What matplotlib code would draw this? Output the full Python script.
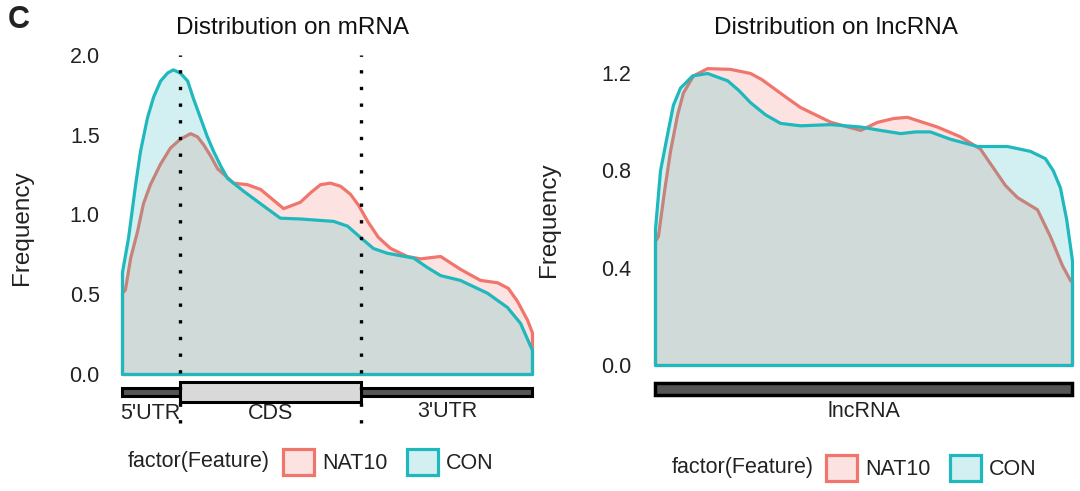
import numpy as np
import matplotlib
matplotlib.use("Agg")
import matplotlib.pyplot as plt
from matplotlib.patches import Rectangle

plt.rcParams['font.family'] = ['Liberation Sans', 'DejaVu Sans']

# relative position along the transcript (0..1) and density
mrna_x_con = [0.0, 0.015, 0.032, 0.044, 0.061, 0.076, 0.093, 0.110, 0.124, 0.141,
              0.159, 0.173, 0.190, 0.207, 0.222, 0.239, 0.256, 0.295, 0.337, 0.385,
              0.434, 0.515, 0.549, 0.580, 0.612, 0.646, 0.678, 0.710, 0.744, 0.776,
              0.824, 0.890, 0.939, 0.971, 1.0]
mrna_con = [0.64, 0.86, 1.19, 1.40, 1.61, 1.74, 1.84, 1.89, 1.91, 1.89,
            1.84, 1.73, 1.61, 1.49, 1.40, 1.31, 1.23, 1.15, 1.07, 0.98,
            0.975, 0.96, 0.93, 0.86, 0.79, 0.76, 0.745, 0.73, 0.67, 0.62,
            0.59, 0.51, 0.42, 0.32, 0.15]
mrna_x_nat = [0.0, 0.007, 0.020, 0.037, 0.051, 0.068, 0.093, 0.117, 0.141, 0.166,
              0.183, 0.198, 0.215, 0.232, 0.271, 0.305, 0.337, 0.365, 0.393, 0.434,
              0.459, 0.483, 0.507, 0.532, 0.556, 0.576, 0.598, 0.624, 0.654, 0.695,
              0.727, 0.776, 0.824, 0.873, 0.915, 0.941, 0.963, 0.988, 1.0]
mrna_nat = [0.51, 0.53, 0.73, 0.90, 1.07, 1.19, 1.32, 1.42, 1.475, 1.51,
            1.49, 1.44, 1.37, 1.29, 1.20, 1.19, 1.16, 1.10, 1.04, 1.08,
            1.14, 1.19, 1.20, 1.18, 1.13, 1.06, 0.96, 0.86, 0.79, 0.74,
            0.725, 0.74, 0.66, 0.59, 0.575, 0.54, 0.46, 0.34, 0.26]

lnc_x_con = [0.0, 0.012, 0.029, 0.043, 0.060, 0.089, 0.125, 0.173, 0.200, 0.228,
             0.264, 0.300, 0.348, 0.420, 0.492, 0.540, 0.588, 0.624, 0.659, 0.707,
             0.772, 0.844, 0.899, 0.935, 0.954, 0.971, 0.986, 1.0]
lnc_con = [0.56, 0.80, 0.95, 1.07, 1.14, 1.19, 1.20, 1.17, 1.13, 1.08,
           1.03, 0.995, 0.985, 0.99, 0.98, 0.966, 0.953, 0.96, 0.96, 0.93,
           0.90, 0.90, 0.88, 0.85, 0.80, 0.73, 0.60, 0.43]
lnc_x_nat = [0.0, 0.007, 0.022, 0.036, 0.053, 0.067, 0.091, 0.125, 0.180, 0.228,
             0.255, 0.283, 0.315, 0.348, 0.420, 0.492, 0.532, 0.571, 0.604, 0.640,
             0.676, 0.731, 0.779, 0.811, 0.839, 0.868, 0.916, 0.947, 0.976, 0.995,
             1.0]
lnc_nat = [0.51, 0.53, 0.72, 0.88, 1.03, 1.12, 1.19, 1.22, 1.217, 1.20,
           1.175, 1.14, 1.10, 1.06, 1.0, 0.966, 0.999, 1.015, 1.02, 1.00,
           0.98, 0.94, 0.89, 0.81, 0.74, 0.69, 0.64, 0.53, 0.41, 0.35,
           0.34]

# boundaries of 5'UTR / CDS / 3'UTR on the mRNA axis
cds_start, cds_end = 0.142, 0.583

groups = ["NAT10", "CON"]
red = "#F0766D"
teal = "#1FB8BC"
txt = '#222222'

fig = plt.figure(figsize=(10.8, 4.91), dpi=100)
W, H = 1080, 491


def px_axes(x0, x1, ytop, ybot):
    return fig.add_axes([x0 / W, 1 - ybot / H, (x1 - x0) / W, (ybot - ytop) / H])


def density(ax, x, y, color):
    poly = ax.fill_between(x, 0, y, facecolor=matplotlib.colors.to_rgba(color, 0.2),
                           edgecolor=color, linewidth=2.3, clip_on=False, zorder=3)
    poly.set_joinstyle('round')
    return poly


def style(ax, ticks, pad):
    for s in ax.spines.values():
        s.set_visible(False)
    ax.set_xticks([])
    ax.set_yticks(ticks)
    ax.set_yticklabels(["%.1f" % t for t in ticks])
    ax.tick_params(axis='y', length=0, pad=pad, labelsize=15.5, labelcolor=txt)
    ax.set_facecolor('none')


# ---- left: mRNA ----
ax1 = px_axes(122, 532, 55, 374)
ax1.set_xlim(0, 1)
ax1.set_ylim(0, 2.0)
style(ax1, [0.0, 0.5, 1.0, 1.5, 2.0], 16)
h_nat = density(ax1, mrna_x_nat, mrna_nat, red)
h_con = density(ax1, mrna_x_con, mrna_con, teal)
for xv in (cds_start, cds_end):
    ax1.plot([xv, xv], [-0.31, 2.0], color='black', lw=2.4,
             linestyle=(0, (1, 4)), dash_capstyle='butt', clip_on=False, zorder=5)
ax1.add_patch(Rectangle((0, -0.1375), cds_start, 0.05, facecolor='#555555',
                        edgecolor='black', lw=2.2, clip_on=False))
ax1.add_patch(Rectangle((cds_end, -0.1375), 1 - cds_end, 0.05, facecolor='#555555',
                        edgecolor='black', lw=2.2, clip_on=False))
ax1.add_patch(Rectangle((cds_start, -0.175), cds_end - cds_start, 0.125,
                        facecolor='#D9D9D9', edgecolor='black', lw=2.2,
                        clip_on=False, zorder=4))
for lab, xv, yv in [("5'UTR", 0.07, -0.245), ("CDS", 0.363, -0.245),
                    ("3'UTR", 0.793, -0.232)]:
    ax1.text(xv, yv, lab, ha='center', va='center', fontsize=15.5, color=txt)
ax1.set_ylabel("Frequency", fontsize=17.5, color=txt)
ax1.yaxis.set_label_coords(-0.217, 0.458)

# ---- right: lncRNA ----
ax2 = px_axes(655, 1072, 73, 365)
ax2.set_xlim(0, 1)
ax2.set_ylim(0, 1.2)
style(ax2, [0.0, 0.4, 0.8, 1.2], 17)
density(ax2, lnc_x_nat, lnc_nat, red)
density(ax2, lnc_x_con, lnc_con, teal)
ax2.add_patch(Rectangle((0, -0.123), 1.0, 0.049, facecolor='#555555',
                        edgecolor='black', lw=2.5, clip_on=False))
ax2.text(0.5, -0.193, "lncRNA", ha='center', va='center', fontsize=15.5, color=txt)
ax2.set_ylabel("Frequency", fontsize=17.5, color=txt)
ax2.yaxis.set_label_coords(-0.228, 0.497)

# titles and panel letter
fig.text(293 / W, 1 - 28 / H, "Distribution on mRNA", ha='center', va='center',
         fontsize=17.5, color='#111111')
fig.text(836 / W, 1 - 28 / H, "Distribution on lncRNA", ha='center', va='center',
         fontsize=17.5, color='#111111')
fig.text(8 / W, 1 - 20 / H, "C", ha='left', va='center', fontsize=22,
         fontweight='bold', color=txt)

# legends
for xt, xl, yl in [(128, 283, 462), (672, 826, 468)]:
    fig.text(xt / W, 1 - yl / H, "factor(Feature)", ha='left', va='center',
             fontsize=15.5, color=txt)
    leg = fig.legend([h_nat, h_con], groups, loc='center left',
                     bbox_to_anchor=(xl / W, 1 - yl / H), ncol=2, frameon=False,
                     fontsize=15.5, handlelength=1.44, handleheight=1.44,
                     handletextpad=0.37, columnspacing=0.93, borderpad=0,
                     borderaxespad=0)
    for t in leg.get_texts():
        t.set_color(txt)

fig.savefig("out.png", dpi=100)
